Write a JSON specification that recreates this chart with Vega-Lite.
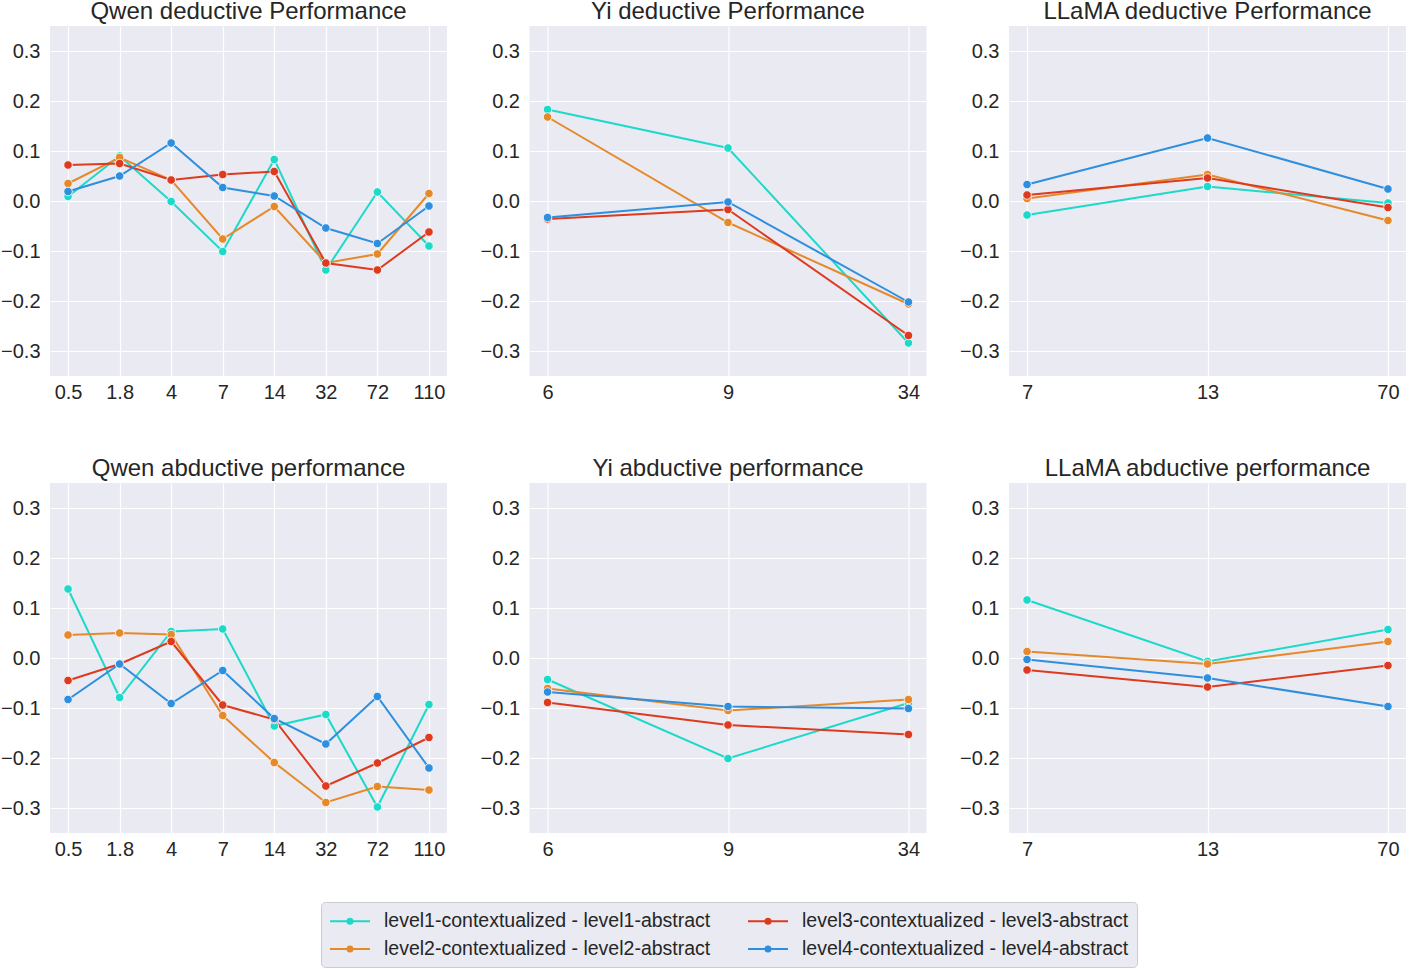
{
  "$schema": "https://vega.github.io/schema/vega-lite/v6.json",
  "background": "white",
  "padding": {"left": 0, "top": 0, "right": 4, "bottom": 4},
  "datasets": {
    "d": [
      {"panel": "Qwen deductive", "size": "0.5", "series": "level1-contextualized - level1-abstract", "value": 0.009},
      {"panel": "Qwen deductive", "size": "1.8", "series": "level1-contextualized - level1-abstract", "value": 0.090},
      {"panel": "Qwen deductive", "size": "4", "series": "level1-contextualized - level1-abstract", "value": -0.001},
      {"panel": "Qwen deductive", "size": "7", "series": "level1-contextualized - level1-abstract", "value": -0.101},
      {"panel": "Qwen deductive", "size": "14", "series": "level1-contextualized - level1-abstract", "value": 0.083},
      {"panel": "Qwen deductive", "size": "32", "series": "level1-contextualized - level1-abstract", "value": -0.138},
      {"panel": "Qwen deductive", "size": "72", "series": "level1-contextualized - level1-abstract", "value": 0.018},
      {"panel": "Qwen deductive", "size": "110", "series": "level1-contextualized - level1-abstract", "value": -0.090},
      {"panel": "Qwen deductive", "size": "0.5", "series": "level2-contextualized - level2-abstract", "value": 0.035},
      {"panel": "Qwen deductive", "size": "1.8", "series": "level2-contextualized - level2-abstract", "value": 0.087},
      {"panel": "Qwen deductive", "size": "4", "series": "level2-contextualized - level2-abstract", "value": 0.042},
      {"panel": "Qwen deductive", "size": "7", "series": "level2-contextualized - level2-abstract", "value": -0.076},
      {"panel": "Qwen deductive", "size": "14", "series": "level2-contextualized - level2-abstract", "value": -0.011},
      {"panel": "Qwen deductive", "size": "32", "series": "level2-contextualized - level2-abstract", "value": -0.124},
      {"panel": "Qwen deductive", "size": "72", "series": "level2-contextualized - level2-abstract", "value": -0.106},
      {"panel": "Qwen deductive", "size": "110", "series": "level2-contextualized - level2-abstract", "value": 0.015},
      {"panel": "Qwen deductive", "size": "0.5", "series": "level3-contextualized - level3-abstract", "value": 0.072},
      {"panel": "Qwen deductive", "size": "1.8", "series": "level3-contextualized - level3-abstract", "value": 0.075},
      {"panel": "Qwen deductive", "size": "4", "series": "level3-contextualized - level3-abstract", "value": 0.042},
      {"panel": "Qwen deductive", "size": "7", "series": "level3-contextualized - level3-abstract", "value": 0.053},
      {"panel": "Qwen deductive", "size": "14", "series": "level3-contextualized - level3-abstract", "value": 0.059},
      {"panel": "Qwen deductive", "size": "32", "series": "level3-contextualized - level3-abstract", "value": -0.124},
      {"panel": "Qwen deductive", "size": "72", "series": "level3-contextualized - level3-abstract", "value": -0.138},
      {"panel": "Qwen deductive", "size": "110", "series": "level3-contextualized - level3-abstract", "value": -0.062},
      {"panel": "Qwen deductive", "size": "0.5", "series": "level4-contextualized - level4-abstract", "value": 0.019},
      {"panel": "Qwen deductive", "size": "1.8", "series": "level4-contextualized - level4-abstract", "value": 0.050},
      {"panel": "Qwen deductive", "size": "4", "series": "level4-contextualized - level4-abstract", "value": 0.116},
      {"panel": "Qwen deductive", "size": "7", "series": "level4-contextualized - level4-abstract", "value": 0.027},
      {"panel": "Qwen deductive", "size": "14", "series": "level4-contextualized - level4-abstract", "value": 0.010},
      {"panel": "Qwen deductive", "size": "32", "series": "level4-contextualized - level4-abstract", "value": -0.054},
      {"panel": "Qwen deductive", "size": "72", "series": "level4-contextualized - level4-abstract", "value": -0.085},
      {"panel": "Qwen deductive", "size": "110", "series": "level4-contextualized - level4-abstract", "value": -0.010},

      {"panel": "Yi deductive", "size": "6", "series": "level1-contextualized - level1-abstract", "value": 0.183},
      {"panel": "Yi deductive", "size": "9", "series": "level1-contextualized - level1-abstract", "value": 0.106},
      {"panel": "Yi deductive", "size": "34", "series": "level1-contextualized - level1-abstract", "value": -0.284},
      {"panel": "Yi deductive", "size": "6", "series": "level2-contextualized - level2-abstract", "value": 0.168},
      {"panel": "Yi deductive", "size": "9", "series": "level2-contextualized - level2-abstract", "value": -0.043},
      {"panel": "Yi deductive", "size": "34", "series": "level2-contextualized - level2-abstract", "value": -0.206},
      {"panel": "Yi deductive", "size": "6", "series": "level3-contextualized - level3-abstract", "value": -0.036},
      {"panel": "Yi deductive", "size": "9", "series": "level3-contextualized - level3-abstract", "value": -0.017},
      {"panel": "Yi deductive", "size": "34", "series": "level3-contextualized - level3-abstract", "value": -0.269},
      {"panel": "Yi deductive", "size": "6", "series": "level4-contextualized - level4-abstract", "value": -0.033},
      {"panel": "Yi deductive", "size": "9", "series": "level4-contextualized - level4-abstract", "value": -0.002},
      {"panel": "Yi deductive", "size": "34", "series": "level4-contextualized - level4-abstract", "value": -0.202},

      {"panel": "LLaMA deductive", "size": "7", "series": "level1-contextualized - level1-abstract", "value": -0.028},
      {"panel": "LLaMA deductive", "size": "13", "series": "level1-contextualized - level1-abstract", "value": 0.029},
      {"panel": "LLaMA deductive", "size": "70", "series": "level1-contextualized - level1-abstract", "value": -0.004},
      {"panel": "LLaMA deductive", "size": "7", "series": "level2-contextualized - level2-abstract", "value": 0.005},
      {"panel": "LLaMA deductive", "size": "13", "series": "level2-contextualized - level2-abstract", "value": 0.053},
      {"panel": "LLaMA deductive", "size": "70", "series": "level2-contextualized - level2-abstract", "value": -0.039},
      {"panel": "LLaMA deductive", "size": "7", "series": "level3-contextualized - level3-abstract", "value": 0.012},
      {"panel": "LLaMA deductive", "size": "13", "series": "level3-contextualized - level3-abstract", "value": 0.046},
      {"panel": "LLaMA deductive", "size": "70", "series": "level3-contextualized - level3-abstract", "value": -0.013},
      {"panel": "LLaMA deductive", "size": "7", "series": "level4-contextualized - level4-abstract", "value": 0.033},
      {"panel": "LLaMA deductive", "size": "13", "series": "level4-contextualized - level4-abstract", "value": 0.126},
      {"panel": "LLaMA deductive", "size": "70", "series": "level4-contextualized - level4-abstract", "value": 0.024},

      {"panel": "Qwen abductive", "size": "0.5", "series": "level1-contextualized - level1-abstract", "value": 0.138},
      {"panel": "Qwen abductive", "size": "1.8", "series": "level1-contextualized - level1-abstract", "value": -0.079},
      {"panel": "Qwen abductive", "size": "4", "series": "level1-contextualized - level1-abstract", "value": 0.053},
      {"panel": "Qwen abductive", "size": "7", "series": "level1-contextualized - level1-abstract", "value": 0.058},
      {"panel": "Qwen abductive", "size": "14", "series": "level1-contextualized - level1-abstract", "value": -0.136},
      {"panel": "Qwen abductive", "size": "32", "series": "level1-contextualized - level1-abstract", "value": -0.113},
      {"panel": "Qwen abductive", "size": "72", "series": "level1-contextualized - level1-abstract", "value": -0.298},
      {"panel": "Qwen abductive", "size": "110", "series": "level1-contextualized - level1-abstract", "value": -0.093},
      {"panel": "Qwen abductive", "size": "0.5", "series": "level2-contextualized - level2-abstract", "value": 0.046},
      {"panel": "Qwen abductive", "size": "1.8", "series": "level2-contextualized - level2-abstract", "value": 0.050},
      {"panel": "Qwen abductive", "size": "4", "series": "level2-contextualized - level2-abstract", "value": 0.047},
      {"panel": "Qwen abductive", "size": "7", "series": "level2-contextualized - level2-abstract", "value": -0.115},
      {"panel": "Qwen abductive", "size": "14", "series": "level2-contextualized - level2-abstract", "value": -0.209},
      {"panel": "Qwen abductive", "size": "32", "series": "level2-contextualized - level2-abstract", "value": -0.289},
      {"panel": "Qwen abductive", "size": "72", "series": "level2-contextualized - level2-abstract", "value": -0.257},
      {"panel": "Qwen abductive", "size": "110", "series": "level2-contextualized - level2-abstract", "value": -0.264},
      {"panel": "Qwen abductive", "size": "0.5", "series": "level3-contextualized - level3-abstract", "value": -0.045},
      {"panel": "Qwen abductive", "size": "1.8", "series": "level3-contextualized - level3-abstract", "value": -0.012},
      {"panel": "Qwen abductive", "size": "4", "series": "level3-contextualized - level3-abstract", "value": 0.033},
      {"panel": "Qwen abductive", "size": "7", "series": "level3-contextualized - level3-abstract", "value": -0.094},
      {"panel": "Qwen abductive", "size": "14", "series": "level3-contextualized - level3-abstract", "value": -0.123},
      {"panel": "Qwen abductive", "size": "32", "series": "level3-contextualized - level3-abstract", "value": -0.256},
      {"panel": "Qwen abductive", "size": "72", "series": "level3-contextualized - level3-abstract", "value": -0.210},
      {"panel": "Qwen abductive", "size": "110", "series": "level3-contextualized - level3-abstract", "value": -0.159},
      {"panel": "Qwen abductive", "size": "0.5", "series": "level4-contextualized - level4-abstract", "value": -0.083},
      {"panel": "Qwen abductive", "size": "1.8", "series": "level4-contextualized - level4-abstract", "value": -0.012},
      {"panel": "Qwen abductive", "size": "4", "series": "level4-contextualized - level4-abstract", "value": -0.091},
      {"panel": "Qwen abductive", "size": "7", "series": "level4-contextualized - level4-abstract", "value": -0.025},
      {"panel": "Qwen abductive", "size": "14", "series": "level4-contextualized - level4-abstract", "value": -0.121},
      {"panel": "Qwen abductive", "size": "32", "series": "level4-contextualized - level4-abstract", "value": -0.172},
      {"panel": "Qwen abductive", "size": "72", "series": "level4-contextualized - level4-abstract", "value": -0.077},
      {"panel": "Qwen abductive", "size": "110", "series": "level4-contextualized - level4-abstract", "value": -0.220},

      {"panel": "Yi abductive", "size": "6", "series": "level1-contextualized - level1-abstract", "value": -0.043},
      {"panel": "Yi abductive", "size": "9", "series": "level1-contextualized - level1-abstract", "value": -0.201},
      {"panel": "Yi abductive", "size": "34", "series": "level1-contextualized - level1-abstract", "value": -0.090},
      {"panel": "Yi abductive", "size": "6", "series": "level2-contextualized - level2-abstract", "value": -0.061},
      {"panel": "Yi abductive", "size": "9", "series": "level2-contextualized - level2-abstract", "value": -0.105},
      {"panel": "Yi abductive", "size": "34", "series": "level2-contextualized - level2-abstract", "value": -0.083},
      {"panel": "Yi abductive", "size": "6", "series": "level3-contextualized - level3-abstract", "value": -0.089},
      {"panel": "Yi abductive", "size": "9", "series": "level3-contextualized - level3-abstract", "value": -0.134},
      {"panel": "Yi abductive", "size": "34", "series": "level3-contextualized - level3-abstract", "value": -0.153},
      {"panel": "Yi abductive", "size": "6", "series": "level4-contextualized - level4-abstract", "value": -0.068},
      {"panel": "Yi abductive", "size": "9", "series": "level4-contextualized - level4-abstract", "value": -0.097},
      {"panel": "Yi abductive", "size": "34", "series": "level4-contextualized - level4-abstract", "value": -0.101},

      {"panel": "LLaMA abductive", "size": "7", "series": "level1-contextualized - level1-abstract", "value": 0.116},
      {"panel": "LLaMA abductive", "size": "13", "series": "level1-contextualized - level1-abstract", "value": -0.007},
      {"panel": "LLaMA abductive", "size": "70", "series": "level1-contextualized - level1-abstract", "value": 0.057},
      {"panel": "LLaMA abductive", "size": "7", "series": "level2-contextualized - level2-abstract", "value": 0.013},
      {"panel": "LLaMA abductive", "size": "13", "series": "level2-contextualized - level2-abstract", "value": -0.012},
      {"panel": "LLaMA abductive", "size": "70", "series": "level2-contextualized - level2-abstract", "value": 0.033},
      {"panel": "LLaMA abductive", "size": "7", "series": "level3-contextualized - level3-abstract", "value": -0.024},
      {"panel": "LLaMA abductive", "size": "13", "series": "level3-contextualized - level3-abstract", "value": -0.058},
      {"panel": "LLaMA abductive", "size": "70", "series": "level3-contextualized - level3-abstract", "value": -0.015},
      {"panel": "LLaMA abductive", "size": "7", "series": "level4-contextualized - level4-abstract", "value": -0.003},
      {"panel": "LLaMA abductive", "size": "13", "series": "level4-contextualized - level4-abstract", "value": -0.040},
      {"panel": "LLaMA abductive", "size": "70", "series": "level4-contextualized - level4-abstract", "value": -0.097}
    ]
  },
  "spacing": 55,
  "vconcat": [
    {
      "spacing": 32.5,
      "hconcat": [
        {
          "title": "Qwen deductive Performance",
          "width": 397, "height": 350,
          "data": {"name": "d"},
          "transform": [{"filter": "datum.panel === 'Qwen deductive'"}],
          "encoding": {
            "x": {"field": "size", "type": "ordinal", "title": null, "scale": {"type": "point", "padding": 0.35, "domain": ["0.5", "1.8", "4", "7", "14", "32", "72", "110"]}},
            "y": {"field": "value", "type": "quantitative", "title": null, "scale": {"domain": [-0.35, 0.35], "nice": false, "zero": false}},
            "color": {"field": "series", "type": "nominal", "title": null, "scale": {"domain": ["level1-contextualized - level1-abstract", "level2-contextualized - level2-abstract", "level3-contextualized - level3-abstract", "level4-contextualized - level4-abstract"], "range": ["#1dd9c9", "#e5892b", "#dd3a1f", "#2d8fde"]}}
          },
          "layer": [{"mark": {"type": "line"}}, {"mark": {"type": "point"}}]
        },
        {
          "title": "Yi deductive Performance",
          "width": 397, "height": 350,
          "data": {"name": "d"},
          "transform": [{"filter": "datum.panel === 'Yi deductive'"}],
          "encoding": {
            "x": {"field": "size", "type": "ordinal", "title": null, "scale": {"type": "point", "padding": 0.1, "domain": ["6", "9", "34"]}},
            "y": {"field": "value", "type": "quantitative", "title": null, "scale": {"domain": [-0.35, 0.35], "nice": false, "zero": false}},
            "color": {"field": "series", "type": "nominal", "title": null, "scale": {"domain": ["level1-contextualized - level1-abstract", "level2-contextualized - level2-abstract", "level3-contextualized - level3-abstract", "level4-contextualized - level4-abstract"], "range": ["#1dd9c9", "#e5892b", "#dd3a1f", "#2d8fde"]}}
          },
          "layer": [{"mark": {"type": "line"}}, {"mark": {"type": "point"}}]
        },
        {
          "title": "LLaMA deductive Performance",
          "width": 397, "height": 350,
          "data": {"name": "d"},
          "transform": [{"filter": "datum.panel === 'LLaMA deductive'"}],
          "encoding": {
            "x": {"field": "size", "type": "ordinal", "title": null, "scale": {"type": "point", "padding": 0.1, "domain": ["7", "13", "70"]}},
            "y": {"field": "value", "type": "quantitative", "title": null, "scale": {"domain": [-0.35, 0.35], "nice": false, "zero": false}},
            "color": {"field": "series", "type": "nominal", "title": null, "scale": {"domain": ["level1-contextualized - level1-abstract", "level2-contextualized - level2-abstract", "level3-contextualized - level3-abstract", "level4-contextualized - level4-abstract"], "range": ["#1dd9c9", "#e5892b", "#dd3a1f", "#2d8fde"]}}
          },
          "layer": [{"mark": {"type": "line"}}, {"mark": {"type": "point"}}]
        }
      ]
    },
    {
      "spacing": 32.5,
      "hconcat": [
        {
          "title": "Qwen abductive performance",
          "width": 397, "height": 350,
          "data": {"name": "d"},
          "transform": [{"filter": "datum.panel === 'Qwen abductive'"}],
          "encoding": {
            "x": {"field": "size", "type": "ordinal", "title": null, "scale": {"type": "point", "padding": 0.35, "domain": ["0.5", "1.8", "4", "7", "14", "32", "72", "110"]}},
            "y": {"field": "value", "type": "quantitative", "title": null, "scale": {"domain": [-0.35, 0.35], "nice": false, "zero": false}},
            "color": {"field": "series", "type": "nominal", "title": null, "scale": {"domain": ["level1-contextualized - level1-abstract", "level2-contextualized - level2-abstract", "level3-contextualized - level3-abstract", "level4-contextualized - level4-abstract"], "range": ["#1dd9c9", "#e5892b", "#dd3a1f", "#2d8fde"]}}
          },
          "layer": [{"mark": {"type": "line"}}, {"mark": {"type": "point"}}]
        },
        {
          "title": "Yi abductive performance",
          "width": 397, "height": 350,
          "data": {"name": "d"},
          "transform": [{"filter": "datum.panel === 'Yi abductive'"}],
          "encoding": {
            "x": {"field": "size", "type": "ordinal", "title": null, "scale": {"type": "point", "padding": 0.1, "domain": ["6", "9", "34"]}},
            "y": {"field": "value", "type": "quantitative", "title": null, "scale": {"domain": [-0.35, 0.35], "nice": false, "zero": false}},
            "color": {"field": "series", "type": "nominal", "title": null, "scale": {"domain": ["level1-contextualized - level1-abstract", "level2-contextualized - level2-abstract", "level3-contextualized - level3-abstract", "level4-contextualized - level4-abstract"], "range": ["#1dd9c9", "#e5892b", "#dd3a1f", "#2d8fde"]}}
          },
          "layer": [{"mark": {"type": "line"}}, {"mark": {"type": "point"}}]
        },
        {
          "title": "LLaMA abductive performance",
          "width": 397, "height": 350,
          "data": {"name": "d"},
          "transform": [{"filter": "datum.panel === 'LLaMA abductive'"}],
          "encoding": {
            "x": {"field": "size", "type": "ordinal", "title": null, "scale": {"type": "point", "padding": 0.1, "domain": ["7", "13", "70"]}},
            "y": {"field": "value", "type": "quantitative", "title": null, "scale": {"domain": [-0.35, 0.35], "nice": false, "zero": false}},
            "color": {"field": "series", "type": "nominal", "title": null, "scale": {"domain": ["level1-contextualized - level1-abstract", "level2-contextualized - level2-abstract", "level3-contextualized - level3-abstract", "level4-contextualized - level4-abstract"], "range": ["#1dd9c9", "#e5892b", "#dd3a1f", "#2d8fde"]}}
          },
          "layer": [{"mark": {"type": "line"}}, {"mark": {"type": "point"}}]
        }
      ]
    }
  ],
  "resolve": {"scale": {"x": "independent", "y": "independent"}},
  "config": {
    "font": "Liberation Sans",
    "view": {"fill": "#eaeaf2", "stroke": null},
    "title": {"fontSize": 24, "fontWeight": "normal", "color": "#262626", "offset": 2, "anchor": "middle"},
    "line": {"strokeWidth": 2},
    "point": {"filled": true, "size": 72, "stroke": "white", "strokeWidth": 0.8, "opacity": 1},
    "axis": {
      "grid": true, "gridColor": "white", "gridWidth": 1.2, "gridOpacity": 1,
      "domain": false, "ticks": false,
      "labelFontSize": 20, "labelColor": "#262626", "labelPadding": 9,
      "labelFont": "Liberation Sans"
    },
    "axisY": {"values": [-0.3, -0.2, -0.1, 0, 0.1, 0.2, 0.3], "format": ".1f", "labelPadding": 10},
    "axisX": {"labelAngle": 0, "labelPadding": 6},
    "legend": {
      "orient": "none", "legendX": 271, "legendY": 876,
      "columns": 2, "columnPadding": 33, "rowPadding": 7,
      "labelFontSize": 19.5, "labelColor": "#262626", "labelFont": "Liberation Sans", "labelLimit": 0,
      "symbolType": "M-1,0L3,0M0.75,0A0.25,0.25,0,1,1,1.25,0A0.25,0.25,0,1,1,0.75,0Z",
      "symbolSize": 400, "symbolStrokeWidth": 2, "labelOffset": 33,
      "fillColor": "#eaeaf2", "strokeColor": "#cccccc", "cornerRadius": 4, "padding": 8
    }
  }
}
